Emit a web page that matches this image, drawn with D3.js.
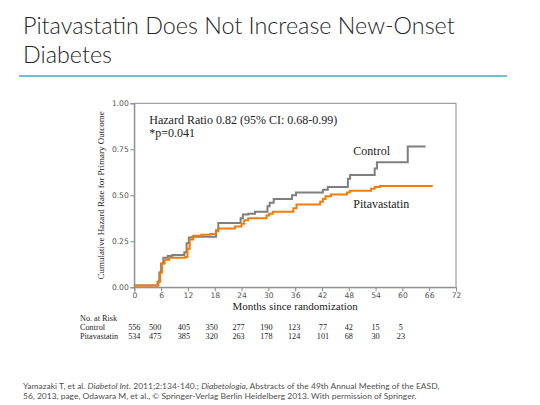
<!DOCTYPE html>
<html>
<head>
<meta charset="utf-8">
<script src="https://cdn.jsdelivr.net/npm/d3@7"></script>
<style>
  html, body { margin: 0; padding: 0; background: #fff; }
  svg { display: block; }
</style>
</head>
<body>
<svg id="chart" width="540" height="405"></svg>
<script>
// ---- Data ----
const xTicks = [0, 6, 12, 18, 24, 30, 36, 42, 48, 54, 60, 66, 72];
const yTicks = [0, 0.25, 0.5, 0.75, 1.0];
const riskMonths = [0, 6, 12, 18, 24, 30, 36, 42, 48, 54, 60];
const controlRisk = [556, 500, 405, 350, 277, 190, 123, 77, 42, 15, 5];
const pitaRisk = [534, 475, 385, 320, 263, 178, 124, 101, 68, 30, 23];

const controlT = [0, 5.2, 5.6, 6.0, 6.5, 7.5, 8.5, 11.2, 11.7, 12.2, 13, 18.3, 18.8, 23.8, 24.3, 25.5, 27, 29.8, 30.3, 31.2, 35.3, 36.2, 42.2, 43.3, 47.8, 48.3, 53.8, 54.3, 61.2, 65.2];
const controlV = [0.01, 0.03, 0.08, 0.13, 0.16, 0.17, 0.175, 0.19, 0.24, 0.27, 0.275, 0.31, 0.35, 0.375, 0.395, 0.40, 0.41, 0.44, 0.46, 0.48, 0.50, 0.515, 0.53, 0.545, 0.59, 0.61, 0.645, 0.68, 0.765, 0.765];

const pitaT = [0, 5.4, 5.8, 6.2, 6.8, 7.8, 11.4, 11.9, 12.4, 13.2, 15, 17.0, 18.3, 18.8, 22.5, 24.0, 24.6, 25.5, 29.6, 30.2, 31, 35.6, 36.3, 41.6, 42.2, 42.8, 44, 47.6, 48.2, 53, 53.8, 55, 66.8];
const pitaV = [0.01, 0.03, 0.08, 0.13, 0.15, 0.16, 0.165, 0.21, 0.26, 0.28, 0.285, 0.29, 0.305, 0.32, 0.33, 0.345, 0.365, 0.375, 0.39, 0.40, 0.41, 0.43, 0.45, 0.465, 0.48, 0.495, 0.505, 0.515, 0.525, 0.535, 0.545, 0.55, 0.55];

const titleLines = ["Pitavastatin Does Not Increase New-Onset", "Diabetes"];
const footerLines = [
  [["Yamazaki T, et al. ", "normal"], ["Diabetol Int", "italic"], [". 2011;2:134-140.; ", "normal"], ["Diabetologia", "italic"], [", Abstracts of the 49th Annual Meeting of the EASD,", "normal"]],
  [["56, 2013, page, Odawara M, et al., \u00A9 Springer-Verlag Berlin Heidelberg 2013. With permission of Springer.", "normal"]]
];

// ---- Layout ----
const svg = d3.select("#chart");
const plot = { left: 134.3, right: 456, top: 103.3, bottom: 287.3 };
const x = d3.scaleLinear().domain([0, 72]).range([plot.left, plot.right]);
const y = d3.scaleLinear().domain([0, 1]).range([plot.bottom, plot.top]);
// small horizontal nudges of the pasted risk-table columns (layout only)
const riskShift = [0, -6, -4, -3, -3, -2, -1, 1, 0, 0, -1.5];

const sans = "Lato, Carlito, 'Open Sans', sans-serif";
const serif = "'Liberation Serif', 'DejaVu Serif', serif";
const tickFont = "'DejaVu Sans', Verdana, sans-serif";

// Title
const title = svg.append("g");
titleLines.forEach((t, i) => {
  title.append("text")
    .attr("x", 23).attr("y", 34 + i * 29)
    .attr("font-family", sans).attr("font-size", 23.5).attr("font-weight", 300)
    .attr("fill", "#262626").text(t);
});
const tl = title.select("text").node().getComputedTextLength();
if (tl > 0) {
  const fs = 23.5 * 432 / tl;
  title.selectAll("text").attr("font-size", fs);
}
svg.append("line").attr("x1", 19).attr("x2", 507).attr("y1", 76).attr("y2", 76)
  .attr("stroke", "#45abc4").attr("stroke-width", 1.3);

// Plot frame
svg.append("rect")
  .attr("x", plot.left).attr("y", plot.top)
  .attr("width", plot.right - plot.left).attr("height", plot.bottom - plot.top)
  .attr("fill", "none").attr("stroke", "#8a8a8a").attr("stroke-width", 1);

// Axes
const xAxis = d3.axisBottom(x).tickValues(xTicks).tickSize(4).tickPadding(1).tickFormat(d3.format("d"));
const gx = svg.append("g").attr("transform", `translate(0,${plot.bottom})`).call(xAxis);
const yAxis = d3.axisLeft(y).tickValues(yTicks).tickSize(4).tickPadding(1.5).tickFormat(d3.format(".2f"));
const gy = svg.append("g").attr("transform", `translate(${plot.left},0)`).call(yAxis);
[gx, gy].forEach(g => {
  g.select(".domain").attr("stroke", "#8a8a8a");
  g.selectAll(".tick line").attr("stroke", "#8a8a8a");
  g.selectAll(".tick text").attr("font-family", tickFont).attr("font-size", 7.6).attr("fill", "#555");
});

// Curves
const line = d3.line().x(d => x(d[0])).y(d => y(d[1])).curve(d3.curveStepAfter);
const controlData = controlT.map((t, i) => [t, controlV[i]]);
const pitaData = pitaT.map((t, i) => [t, pitaV[i]]);
svg.append("path").datum(controlData).attr("d", line)
  .attr("fill", "none").attr("stroke", "#7f7f7f").attr("stroke-width", 2);
svg.append("path").datum(pitaData).attr("d", line)
  .attr("fill", "none").attr("stroke", "#ef7d0a").attr("stroke-width", 2);

// Annotations
svg.append("text").attr("x", 149.3).attr("y", 123.5)
  .attr("font-family", serif).attr("font-size", 12).attr("fill", "#222")
  .text("Hazard Ratio 0.82 (95% CI: 0.68-0.99)");
svg.append("text").attr("x", 149.3).attr("y", 137.3)
  .attr("font-family", serif).attr("font-size", 12).attr("fill", "#222")
  .text("*p=0.041");
svg.append("text").attr("x", 353.3).attr("y", 154.5)
  .attr("font-family", serif).attr("font-size", 12).attr("fill", "#222").text("Control");
svg.append("text").attr("x", 353.3).attr("y", 207.5)
  .attr("font-family", serif).attr("font-size", 12).attr("fill", "#222").text("Pitavastatin");

// Axis titles
svg.append("text").attr("x", (plot.left + plot.right) / 2).attr("y", 309.5)
  .attr("text-anchor", "middle").attr("font-family", serif).attr("font-size", 11).attr("fill", "#222")
  .text("Months since randomization");
svg.append("text")
  .attr("transform", `translate(103.5,${(plot.top + plot.bottom) / 2}) rotate(-90)`)
  .attr("text-anchor", "middle").attr("font-family", serif).attr("font-size", 9).attr("fill", "#222")
  .text("Cumulative Hazard Rate for Primary Outcome");

// Number at risk table
const riskG = svg.append("g").attr("font-family", serif).attr("fill", "#222").attr("font-size", 8.2);
riskG.append("text").attr("x", 80).attr("y", 320.7).text("No. at Risk");
riskG.append("text").attr("x", 80).attr("y", 330.0).text("Control");
riskG.append("text").attr("x", 80).attr("y", 339.2).text("Pitavastatin");
riskG.selectAll(".rc").data(controlRisk).join("text").attr("class", "rc")
  .attr("x", (d, i) => x(riskMonths[i]) + riskShift[i]).attr("y", 330.0)
  .attr("text-anchor", "middle").text(d => d);
riskG.selectAll(".rp").data(pitaRisk).join("text").attr("class", "rp")
  .attr("x", (d, i) => x(riskMonths[i]) + riskShift[i]).attr("y", 339.2)
  .attr("text-anchor", "middle").text(d => d);

// Footer
const foot = svg.append("g");
footerLines.forEach((parts, i) => {
  const t = foot.append("text").attr("x", 23).attr("y", 388.5 + i * 10.5)
    .attr("font-family", sans).attr("font-size", 9).attr("fill", "#505050");
  parts.forEach(p => t.append("tspan").attr("font-style", p[1]).text(p[0]));
});
const fl = foot.select("text").node().getComputedTextLength();
if (fl > 0) foot.selectAll("text").attr("font-size", 9 * 417 / fl);
</script>
</body>
</html>
